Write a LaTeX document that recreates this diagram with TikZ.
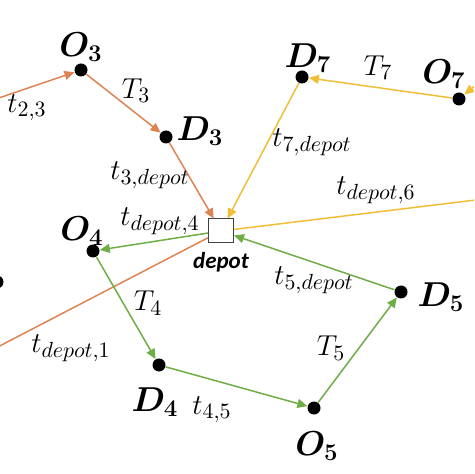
\documentclass[tikz,border=0pt]{standalone}
\usepackage{amsmath,bm}
\usepackage{fontspec}
\newfontfamily\depotfont{Carlito}
\usetikzlibrary{arrows.meta}
\definecolor{orangeroute}{RGB}{221,132,82}
\definecolor{yellowroute}{RGB}{240,190,55}
\definecolor{greenroute}{RGB}{112,173,71}
\tikzset{
  stop/.style = {circle,fill=black,inner sep=0pt,minimum size=6.5pt},
  place/.style = {font=\fontsize{17}{19}\selectfont},
  cost/.style = {font=\fontsize{15}{17}\selectfont},
  leg/.style = {line width=0.75pt,-{Triangle[length=5pt,width=4.5pt]}},
  open leg/.style = {line width=0.75pt}
}

\begin{document}
\begin{tikzpicture}[x=0.5pt,y=-0.5pt]
  \useasboundingbox (0,0) rectangle (474,474);
  \clip (0,0) rectangle (474,474);
  % stops
  \node[stop] (prev) at (-3,282) {};
  \node[stop] (O3) at (81,70) {};
  \node[stop] (D3) at (166,137) {};
  \node[stop] (D7) at (302,77) {};
  \node[stop] (O7) at (459,99) {};
  \node[stop] (O4) at (93,251) {};
  \node[stop] (D4) at (159,365) {};
  \node[stop] (O5) at (314,408) {};
  \node[stop] (D5) at (401,292) {};
  \node[draw=black!75,fill=white,line width=0.5pt,minimum width=12.5pt,minimum height=12pt,inner sep=0pt] (depot) at (221,231) {};
  % ends outside the picture
  \coordinate (in2) at (-10,101);
  \coordinate (in7) at (487,76);
  \coordinate (out1) at (-10,351);
  \coordinate (out6) at (484,199);
  % orange route
  \draw[leg,orangeroute] (in2) -- (O3);
  \draw[leg,orangeroute] (O3) -- (D3);
  \draw[leg,orangeroute] (D3) -- (depot);
  \draw[open leg,orangeroute] (depot) -- (out1);
  % yellow route
  \draw[leg,yellowroute] (in7) -- (O7);
  \draw[leg,yellowroute] (O7) -- (D7);
  \draw[leg,yellowroute] (D7) -- (depot);
  \draw[open leg,yellowroute] (depot) -- (out6);
  % green route
  \draw[leg,greenroute] (depot) -- (O4);
  \draw[leg,greenroute] (O4) -- (D4);
  \draw[leg,greenroute] (D4) -- (O5);
  \draw[leg,greenroute] (O5) -- (D5);
  \draw[leg,greenroute] (D5) -- (depot);
  % names of the stops
  \node[place] (lO3) at (81,47) {$\boldsymbol{O_3}$};
  \node[place] (lD3) at (200,131) {$\boldsymbol{D_3}$};
  \node[place] (lD7) at (308,58) {$\boldsymbol{D_7}$};
  \node[place] (lO7) at (444,74) {$\boldsymbol{O_7}$};
  \node[place] (lO4) at (82,231) {$\boldsymbol{O_4}$};
  \node[place] (lD4) at (155,402) {$\boldsymbol{D_4}$};
  \node[place] (lO5) at (317,446) {$\boldsymbol{O_5}$};
  \node[place] (lD5) at (441,297) {$\boldsymbol{D_5}$};
  \node[font=\depotfont\bfseries\itshape\fontsize{11.5}{13}\selectfont] (ldepot) at (221,262) {depot};
  % times on the legs
  \node[cost] (c23) at (27,108) {$t_{2,3}$};
  \node[cost] (cT3) at (136,91) {$T_3$};
  \node[cost] (c3d) at (150,175) {$t_{3,depot}$};
  \node[cost] (cd4) at (160,221) {$t_{depot,4}$};
  \node[cost] (c7d) at (312,142) {$t_{7,depot}$};
  \node[cost] (cT7) at (378,68) {$T_7$};
  \node[cost] (cd6) at (376,190) {$t_{depot,6}$};
  \node[cost] (cd1) at (71,348) {$t_{depot,1}$};
  \node[cost] (cT4) at (148,303) {$T_4$};
  \node[cost] (c45) at (212,410) {$t_{4,5}$};
  \node[cost] (c5d) at (314,280) {$t_{5,depot}$};
  \node[cost] (cT5) at (331,348) {$T_5$};
\end{tikzpicture}
\end{document}
